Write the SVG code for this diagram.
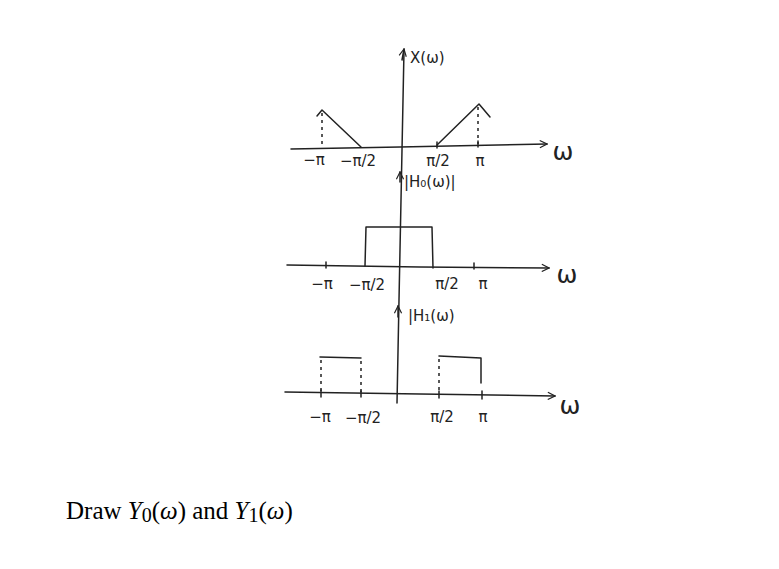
<svg xmlns="http://www.w3.org/2000/svg" width="779" height="569" viewBox="0 0 779 569">
<defs>
<style>
.ln{fill:none;stroke:#222;stroke-width:1.5;stroke-linecap:round;stroke-linejoin:round}
.dot{fill:none;stroke:#222;stroke-width:1.5;stroke-dasharray:3 4}
.hw{font-family:"DejaVu Sans","Noto Sans",sans-serif;font-size:15px;fill:#222}
.om{font-size:25px}
.tx{font-family:"Liberation Serif",serif;font-size:25px;fill:#000}
</style>
<marker id="ah" viewBox="0 0 10 10" refX="9" refY="5" markerWidth="9" markerHeight="9" orient="auto" markerUnits="userSpaceOnUse">
<path d="M1,1 L9,5 L1,9" fill="none" stroke="#222" stroke-width="1.3"/>
</marker>
</defs>
<rect width="779" height="569" fill="#fff"/>
<g id="connectors">
<polyline class="ln" points="404,50 401,200 399,300 397,403"/>
<line class="ln" x1="402" y1="60" x2="404" y2="49" marker-end="url(#ah)"/>
<line class="ln" x1="400" y1="182" x2="400" y2="172" marker-end="url(#ah)"/>
<line class="ln" x1="398" y1="317" x2="398" y2="306" marker-end="url(#ah)"/>
</g>
<g id="plot-x">
<polyline class="ln" points="291,149 400,147 547,144" marker-end="url(#ah)"/>
<polyline class="ln" points="317,116 322,110 361,147"/>
<polyline class="ln" points="437,145 479,104 490,117"/>
<line class="dot" x1="322" y1="113" x2="322" y2="148"/>
<line class="dot" x1="478" y1="107" x2="478" y2="144"/>
<line class="ln" x1="437" y1="142" x2="437" y2="148"/>
<line class="ln" x1="478" y1="141" x2="478" y2="147"/>
<text class="hw" x="314" y="165" text-anchor="middle">−π</text>
<text class="hw" x="358" y="166" text-anchor="middle">−π/2</text>
<text class="hw" x="438" y="166" text-anchor="middle">π/2</text>
<text class="hw" x="480" y="166" text-anchor="middle">π</text>
<text class="hw om" x="563" y="160" text-anchor="middle">ω</text>
<text class="hw" x="410" y="63" font-size="20">X(ω)</text>
</g>
<g id="plot-h0">
<text class="hw" x="404" y="187" font-size="19">|H₀(ω)|</text>
<polyline class="ln" points="287,265 420,267 549,268" marker-end="url(#ah)"/>
<polyline class="ln" points="365,266 366,227 432,227 433,268"/>
<line class="ln" x1="326" y1="262" x2="326" y2="268"/>
<line class="ln" x1="474" y1="263" x2="474" y2="269"/>
<text class="hw" x="322" y="289" text-anchor="middle">−π</text>
<text class="hw" x="367" y="290" text-anchor="middle">−π/2</text>
<text class="hw" x="447" y="289" text-anchor="middle">π/2</text>
<text class="hw" x="483" y="289" text-anchor="middle">π</text>
<text class="hw om" x="567" y="283" text-anchor="middle">ω</text>
</g>
<g id="plot-h1">
<text class="hw" x="408" y="321" font-size="19">|H₁(ω)</text>
<polyline class="ln" points="285,392 420,394 555,396" marker-end="url(#ah)"/>
<polyline class="ln" points="320,357 361,358"/>
<line class="dot" x1="321" y1="360" x2="321" y2="393"/>
<line class="dot" x1="361" y1="361" x2="361" y2="393"/>
<polyline class="ln" points="439,356 481,358 481,383"/>
<line class="dot" x1="439" y1="359" x2="439" y2="394"/>
<line class="ln" x1="321" y1="390" x2="321" y2="397"/>
<line class="ln" x1="361" y1="391" x2="361" y2="397"/>
<line class="ln" x1="439" y1="391" x2="439" y2="398"/>
<line class="ln" x1="482" y1="391" x2="482" y2="399"/>
<text class="hw" x="320" y="422" text-anchor="middle">−π</text>
<text class="hw" x="363" y="423" text-anchor="middle">−π/2</text>
<text class="hw" x="442" y="422" text-anchor="middle">π/2</text>
<text class="hw" x="483" y="422" text-anchor="middle">π</text>
<text class="hw om" x="570" y="414" text-anchor="middle">ω</text>
</g>
<g id="caption">
<text class="tx" x="66" y="519">Draw <tspan font-style="italic">Y</tspan><tspan font-size="20" dy="3">0</tspan><tspan dy="-3">(</tspan><tspan font-style="italic">ω</tspan>) and <tspan font-style="italic">Y</tspan><tspan font-size="20" dy="3">1</tspan><tspan dy="-3">(</tspan><tspan font-style="italic">ω</tspan>)</text>
</g>
</svg>
